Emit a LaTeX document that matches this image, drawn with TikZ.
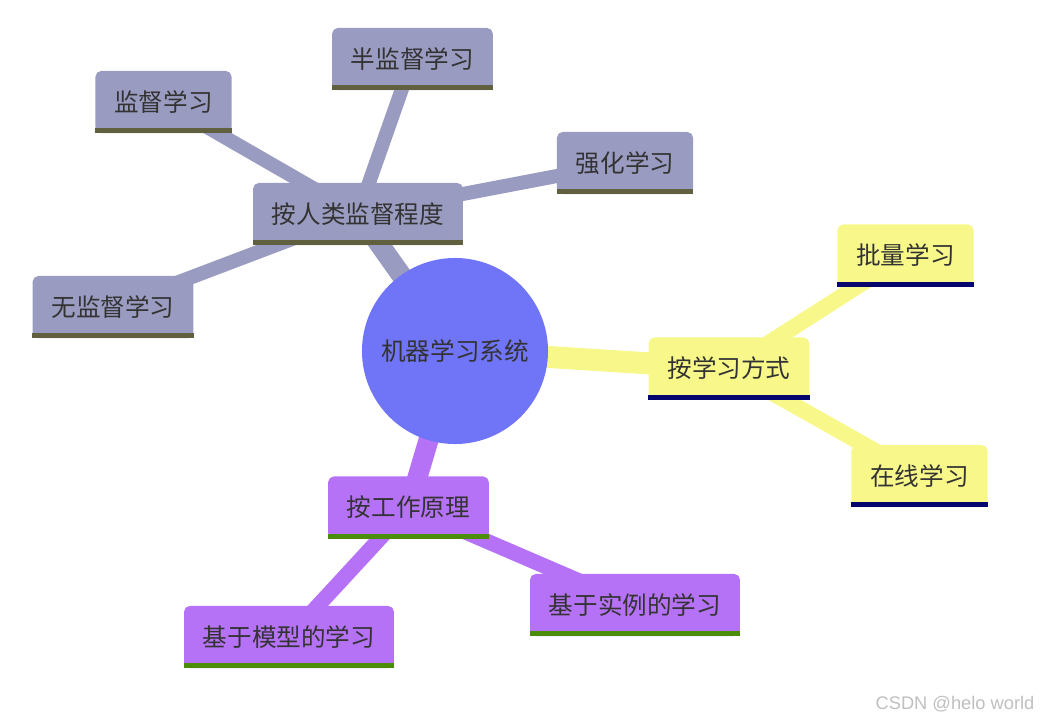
\documentclass[tikz,border=0pt]{standalone}
\usepackage{fontspec}
\usepackage{xcolor}
\usepackage{tikz}
\usetikzlibrary{backgrounds}
\newfontfamily\cjk{Noto Sans CJK SC}
\newfontfamily\wmfont{Liberation Sans}

\definecolor{txtgray}{RGB}{51,51,51}
\definecolor{rootblue}{RGB}{112,116,246}
\definecolor{supfill}{RGB}{154,155,192}
\definecolor{supbar}{RGB}{96,96,64}
\definecolor{modefill}{RGB}{248,248,138}
\definecolor{modebar}{RGB}{5,5,110}
\definecolor{workfill}{RGB}{182,114,246}
\definecolor{workbar}{RGB}{75,140,10}

\begin{document}
\begin{tikzpicture}[x=0.025cm, y=-0.025cm,
      topic/.style={rectangle, rounded corners=4pt, minimum height=1.55cm, inner xsep=0.47cm, text=txtgray, font=\cjk\fontsize{17.5}{20}\selectfont},
      supbox/.style={topic, fill=supfill},
      modebox/.style={topic, fill=modefill},
      workbox/.style={topic, fill=workfill},
      rootnode/.style={circle, fill=rootblue, minimum size=4.65cm, inner sep=0pt, text=txtgray, font=\cjk\fontsize{17.5}{20}\selectfont},
      suplink/.style={supfill, line width=0.35cm},
      modelink/.style={modefill, line width=0.4cm},
      worklink/.style={workfill, line width=0.38cm}]
      \useasboundingbox (0,0) rectangle (1040,722);
      % centre
      \node[rootnode] (root) at (455,351) {机器学习系统};
      % by supervision
      \node[supbox] (human) at (358,214) {按人类监督程度};
      \node[supbox] (semi) at (412.5,59) {半监督学习};
      \node[supbox] (supv) at (163.5,102) {监督学习};
      \node[supbox] (rl) at (625,163) {强化学习};
      \node[supbox] (unsup) at (113,307) {无监督学习};
      % by learning mode
      \node[modebox] (mode) at (729,368.5) {按学习方式};
      \node[modebox] (batch) at (905.5,255.5) {批量学习};
      \node[modebox] (online) at (919.5,476) {在线学习};
      % by working principle
      \node[workbox] (work) at (408.5,507.5) {按工作原理};
      \node[workbox] (inst) at (635,605) {基于实例的学习};
      \node[workbox] (model) at (289,637) {基于模型的学习};
      % bottom bars
      \foreach \n/\c in {human/supbar, semi/supbar, supv/supbar, rl/supbar, unsup/supbar,
                         mode/modebar, batch/modebar, online/modebar,
                         work/workbar, inst/workbar, model/workbar}
        \fill[\c] (\n.south west) rectangle ([yshift=0.13cm]\n.south east);
      \begin{scope}[on background layer]
        \draw[suplink, line width=0.5cm] (root.center) -- (human.center);
        \foreach \n in {semi, supv, rl, unsup}
          \draw[suplink] (human.center) -- (\n.center);
        \draw[modelink, line width=0.55cm] (root.center) -- (mode.center);
        \foreach \n in {batch, online}
          \draw[modelink] (mode.center) -- (\n.center);
        \draw[worklink, line width=0.5cm] (root.center) -- (work.center);
        \foreach \n in {inst, model}
          \draw[worklink] (work.center) -- (\n.center);
      \end{scope}
      \node[font=\wmfont\fontsize{13}{15}\selectfont, text=black!25] (mark) at (955,704) {CSDN @helo world};
    \end{tikzpicture}
\end{document}
